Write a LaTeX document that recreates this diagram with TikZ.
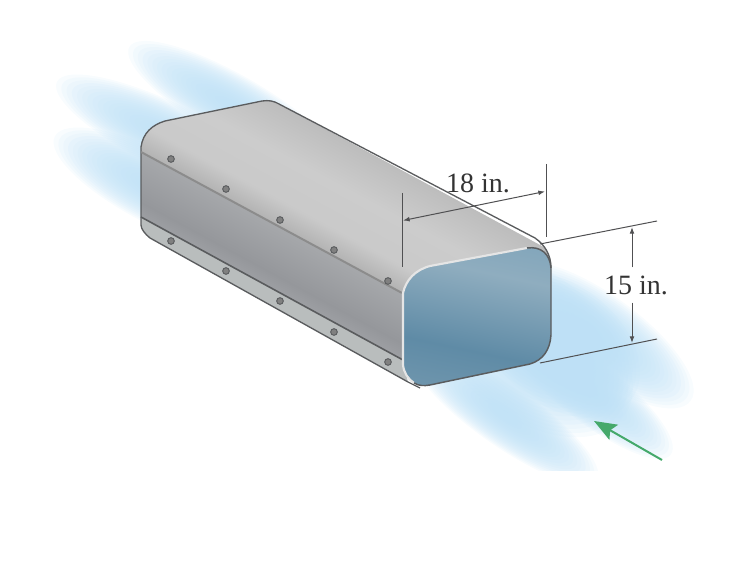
\documentclass[tikz,border=0pt]{standalone}
\usepackage{amsmath}
\usepackage{fontspec}
\setmainfont{Liberation Serif}
\usetikzlibrary{arrows.meta}
\definecolor{flowblue}{HTML}{BDE0F6}
\definecolor{arrowgreen}{HTML}{45A96B}
\definecolor{dimgray}{HTML}{505052}
\definecolor{edgegray}{HTML}{5A5C5E}
\definecolor{stripgray}{HTML}{B9BDBD}
\definecolor{sidetop}{HTML}{A6A8AB}
\definecolor{sidemid}{HTML}{95979B}
\definecolor{sidelow}{HTML}{9EA0A4}
\pgfdeclareverticalshading{toppanel}{100bp}{color(0bp)=(black!30!white); color(25bp)=(black!30!white); color(36bp)=(black!21!white); color(55bp)=(black!20!white); color(75bp)=(black!26!white); color(100bp)=(black!26!white)}
\pgfdeclareverticalshading{sidepanel}{100bp}{color(0bp)=(sidelow); color(25bp)=(sidelow); color(38bp)=(sidemid); color(75bp)=(sidetop); color(100bp)=(sidetop)}
\definecolor{facetop}{HTML}{7FA4BA}
\definecolor{facelight}{HTML}{8FADBF}
\definecolor{facedark}{HTML}{5F8BA6}
\definecolor{facelow}{HTML}{7197AE}
\pgfdeclareverticalshading{faceshade}{100bp}{color(0bp)=(facelow); color(25bp)=(facelow); color(40bp)=(facedark); color(62bp)=(facelight); color(75bp)=(facetop); color(100bp)=(facetop)}
\newcommand{\flowlobe}[5]{
	\foreach \i in {0,...,19}{
		\fill[flowblue, opacity=0.11, rotate around={#3:(#1,#2)}]
			(#1,#2) ellipse [x radius={#4*(1-0.045*\i)}, y radius={#5*(1-0.045*\i)}];
	}
}
\begin{document}
\begin{tikzpicture}
	[x=0.0264cm, y=-0.0264cm,
	rivet/.style = {draw=edgegray, fill=black!50!white, circle, line width=0.7pt, inner sep=0pt, minimum size=5pt},
	dim/.style = {draw=dimgray, line width=0.75pt},
	dimarrow/.style = {dim, -{Latex[length=5pt,width=3.6pt]}},
	dimlabel/.style = {text=black!80, font=\fontsize{21}{23}\selectfont, inner sep=0pt}]
	\useasboundingbox (0,0) rectangle (744,572);

	% flow behind the duct
	\flowlobe{235}{108}{-30}{122}{32}
	\flowlobe{172}{138}{-26}{128}{33}
	\flowlobe{160}{190}{-27}{118}{36}
	\begin{scope}
		\clip (0,0) rectangle (744,471);
		\flowlobe{530}{345}{-38}{118}{72}
		\flowlobe{560}{345}{-38}{90}{60}
		\flowlobe{600}{335}{-36}{112}{40}
		\flowlobe{588}{390}{-38}{105}{30}
		\flowlobe{505}{416}{-35}{112}{30}
	\end{scope}

	% top panel
	\begin{scope}
		\clip (141,152) -- (141,147) .. controls (143,133) and (152,125) .. (165,121)
			-- (262,101) .. controls (269,100) and (274,101) .. (279,104)
			-- (535,238) .. controls (545,245) and (551,255) .. (551,268)
			-- (430,300) -- (402,293) -- cycle;
		\shade[shading=toppanel, transform canvas={rotate around={-28.4:(141,152)}}] (130,44) rectangle (600,152);
	\end{scope}
	% side panel
	\begin{scope}
		\clip (141,152) -- (402,293) -- (403,360) -- (141,217) -- cycle;
		\shade[shading=sidepanel, transform canvas={rotate around={-28.4:(141,152)}}] (130,152) rectangle (600,212);
	\end{scope}
	% lower strip
	\fill[stripgray]
		(141,217) -- (403,360) -- (408,382) -- (150,238) .. controls (145,234) and (141,229) .. (141,225) -- cycle;

	% outline and seams
	\draw[edgegray, line width=1pt]
		(141,225) -- (141,147) .. controls (143,133) and (152,125) .. (165,121)
		-- (262,101) .. controls (269,100) and (274,101) .. (279,104)
		-- (535,238) .. controls (545,245) and (551,255) .. (551,268);
	\draw[edgegray, line width=1pt]
		(141,225) .. controls (141,229) and (145,234) .. (150,238) -- (408,382) -- (420,388);
	\draw[black!45!white, line width=1.5pt] (141,152) -- (402,293);
	\draw[edgegray, line width=1.2pt] (141,217) -- (403,360);

	% opening
	\begin{scope}
		\clip (403,293) .. controls (406,280) and (415,270) .. (430,266)
			-- (527,248) .. controls (541,246) and (550,254) .. (551,268)
			-- (551,335) .. controls (550,350) and (543,360) .. (530,364)
			-- (430,385) .. controls (415,388) and (405,380) .. (403,365) -- cycle;
		\shade[shading=faceshade, transform canvas={rotate around={-12:(477,315)}}] (360,225) rectangle (600,405);
	\end{scope}
	\draw[white!90!black, line width=1.6pt]
		(414,383) .. controls (408,379) and (404,373) .. (403,365) -- (403,293)
		.. controls (406,280) and (415,270) .. (430,266) -- (527,248);
	\draw[edgegray, line width=1.1pt]
		(527,248) .. controls (541,246) and (550,254) .. (551,268)
		-- (551,335) .. controls (550,350) and (543,360) .. (530,364)
		-- (430,385) .. controls (424,386) and (419,386) .. (414,383);

	% rivets
	\node[rivet] (r1) at (171,159) {};
	\node[rivet] (r2) at (226,189) {};
	\node[rivet] (r3) at (280,220) {};
	\node[rivet] (r4) at (334,250) {};
	\node[rivet] (r5) at (388,281) {};
	\node[rivet] (r6) at (171,241) {};
	\node[rivet] (r7) at (226,271) {};
	\node[rivet] (r8) at (280,301) {};
	\node[rivet] (r9) at (334,332) {};
	\node[rivet] (r10) at (388,362) {};

	% dimensions
	\coordinate (w1) at (402,193);
	\coordinate (w2) at (402,267);
	\coordinate (w3) at (546,164);
	\coordinate (w4) at (546,237);
	\coordinate (wa) at (403,220.5);
	\coordinate (wb) at (545,191.5);
	\coordinate (h1) at (540,244);
	\coordinate (h2) at (657,221);
	\coordinate (h3) at (540,363);
	\coordinate (h4) at (657,339);
	\coordinate (ha) at (632,227);
	\coordinate (hb) at (632,343);
	\node[dimlabel] (width) at (478,183) {18 in.};
	\node[dimlabel, minimum height=26pt] (height) at (636,285) {15 in.};
	\draw[dim] (w1) -- (w2);
	\draw[dim] (w3) -- (w4);
	\draw[dim] (h1) -- (h2);
	\draw[dim] (h3) -- (h4);
	\draw[dim, {Latex[length=5pt,width=3.6pt]}-{Latex[length=5pt,width=3.6pt]}] (wa) -- (wb);
	\draw[dimarrow] (height.north -| ha) -- (ha);
	\draw[dimarrow] (height.south -| hb) -- (hb);

	% flow arrow
	\coordinate (g1) at (662,460);
	\coordinate (g2) at (594,421);
	\draw[arrowgreen, line width=1.5pt, -{Stealth[length=17pt,width=13pt,inset=3pt]}] (g1) -- (g2);
\end{tikzpicture}
\end{document}
